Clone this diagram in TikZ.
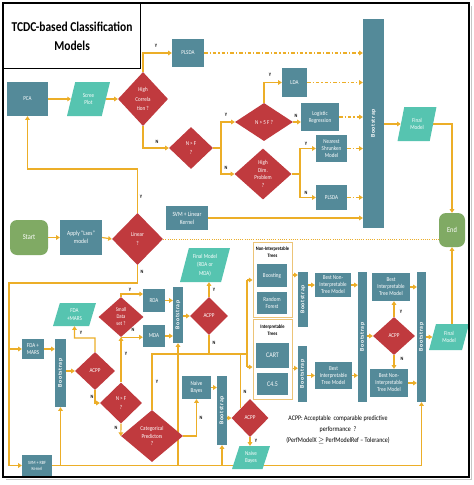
\documentclass[tikz,border=0pt]{standalone}
\usepackage{graphicx}
\usepackage{fontspec}
\setmainfont{Carlito}[FakeStretch=0.85]
\newfontfamily\bootfont{Carlito}[LetterSpace=10]
\usetikzlibrary{shapes.geometric,arrows.meta,backgrounds,calc}
\definecolor{boxc}{RGB}{84,138,153}
\definecolor{parac}{RGB}{86,196,176}
\definecolor{redc}{RGB}{192,58,62}
\definecolor{grnc}{RGB}{128,170,100}
\definecolor{orac}{RGB}{236,174,40}
\definecolor{contc}{RGB}{236,196,120}
\begin{document}
\begin{tikzpicture}[x=1pt,y=-1pt,
 sz/.style 2 args={minimum width=#1, minimum height=#2},
 box/.style={rectangle, fill=boxc, text=white, inner sep=0.5pt, align=center, font=\fontsize{6}{7}\selectfont},
 bootbox/.style={rectangle, fill=boxc, text=white, inner sep=0pt, font=\bootfont\bfseries\fontsize{5.8}{6}\selectfont},
 dia/.style={diamond, fill=redc, text=white, inner sep=0pt, align=center, font=\fontsize{6}{8}\selectfont},
 para/.style={trapezium, trapezium left angle=73, trapezium right angle=107, trapezium stretches=true, fill=parac, text=white, inner sep=0pt, align=center, font=\fontsize{6}{7.5}\selectfont},
 term/.style={rectangle, rounded corners=7pt, fill=grnc, text=white, inner sep=0pt, align=center, font=\fontsize{7.5}{8}\selectfont},
 cont/.style={rectangle, draw=contc, line width=1pt, fill=white, inner sep=0pt},
 conttitle/.style={align=center, text=black, inner sep=0pt, font=\bfseries\fontsize{5.2}{6.5}\selectfont},
 lab/.style={font=\bfseries\fontsize{5}{5}\selectfont, text=black, inner sep=0pt},
 line/.style={draw=orac, line width=1.2pt},
 arr/.style={line, -{Triangle[length=3.6pt,width=4.6pt]}},
 dd/.style={arr, dash pattern=on 3.5pt off 2pt on 1.2pt off 2pt},
 dotl/.style={draw=orac, line width=0.7pt, dash pattern=on 0.8pt off 1.4pt}]
\useasboundingbox (0,0) rectangle (474,485);
% title
\node[draw=black, line width=1.2pt, fill=white, sz={137}{65}, anchor=north west, inner sep=0pt, align=center, font=\bfseries\fontsize{13.5}{19}\selectfont] (title) at (3,3) {TCDC-based Classification\\Models};
% top part
\node[box, sz={32}{28}] (plsdaA) at (188,53) {PLSDA};
\node[box, sz={41}{34}] (pca) at (27.5,99) {PCA};
\node[para, sz={43}{34}] (scree) at (88.5,99) {Scree\\Plot};
\node[dia, sz={50}{54}, font=\fontsize{6}{9.5}\selectfont] (hc) at (143,99) {High\\Correla\\tion ?};
\node[dia, sz={44}{42}, font=\fontsize{6}{9}\selectfont] (nfA) at (191,148) {N > F\\?};
\node[dia, sz={58}{38}] (nfive) at (264,122) {N > 5 F ?};
\node[box, sz={25}{29}] (lda) at (294.5,82.5) {LDA};
\node[box, sz={38}{28}] (logreg) at (320,117) {Logistic\\Regression};
\node[dia, sz={57}{51}, font=\fontsize{6}{7.5}\selectfont] (hdp) at (263,174) {High\\Dim.\\Problem\\?};
\node[box, sz={31}{27}] (nsm) at (331.5,148.5) {Nearest\\Shrunken\\Model};
\node[box, sz={31}{25}] (plsdaB) at (331.5,197.5) {PLSDA};
\node[bootbox, sz={21}{209}] (bootA) at (373.5,123.5) {\rotatebox{90}{Bootstrap}};
\node[box, sz={42}{24}, font=\fontsize{6.4}{8}\selectfont] (svml) at (187,218) {SVM + Linear\\Kernel};
\node[para, sz={39}{34}] (fmA) at (417,124) {Final\\Model};
\node[term, sz={26}{34}] (endn) at (452,230) {End};
\node[term, sz={38}{35}] (start) at (29,237.5) {Start};
\node[box, sz={42}{35}, font=\fontsize{6.4}{8}\selectfont] (apply) at (81,237.5) {Apply “Lses”\\model};
\node[dia, sz={51}{52}, font=\fontsize{6}{9}\selectfont] (lin) at (137.5,239) {Linear\\?};
% left / middle part
\node[box, sz={22}{20}] (fdam) at (33,349) {FDA +\\MARS};
\node[bootbox, sz={11}{68}] (bootL) at (60.5,373) {\rotatebox{90}{Bootstrap}};
\node[dia, sz={40}{38}] (acppL) at (95,371) {ACPP};
\node[para, sz={43}{23}] (fdap) at (74.5,314.5) {FDA\\+MARS};
\node[dia, sz={45}{40}, font=\fontsize{5.6}{7}\selectfont] (small) at (121,317) {Small\\Data\\set ?};
\node[dia, sz={42}{41}, font=\fontsize{6}{9}\selectfont] (nfB) at (121,403) {N > F\\?};
\node[dia, sz={62}{52}, font=\fontsize{6}{7.5}\selectfont] (cat) at (152,436) {Categorical\\Predictors\\?};
\node[box, sz={22}{23}] (rda) at (154,300.5) {RDA};
\node[box, sz={22}{22}] (mda) at (154,336) {MDA};
\node[bootbox, sz={10}{56}] (bootRM) at (178,315) {\rotatebox{90}{Bootstrap}};
\node[dia, sz={38}{38}] (acppM) at (209,316) {ACPP};
\node[para, sz={50}{34}, font=\fontsize{6}{8.5}\selectfont] (fmRM) at (205,265) {Final Model\\(RDA or\\MDA)};
\node[box, sz={29}{23}] (nb) at (196.5,387.5) {Naive\\Bayes};
\node[bootbox, sz={10}{69}] (bootNB) at (222,410.5) {\rotatebox{90}{Bootstrap}};
\node[dia, sz={37}{38}] (acppB) at (250,418) {ACPP};
\node[para, sz={38}{23}] (nbp) at (251,457.5) {Naive\\Bayes};
\node[box, sz={30}{21}, font=\fontsize{4.8}{6}\selectfont] (svmr) at (37,465.5) {SVM + RBF\\Kernel};
% trees
\node[cont, sz={39}{75}] (nit) at (272.5,279.5) {};
\node[conttitle] (nitT) at (272.5,252) {Non-Interpretable\\Trees};
\node[box, sz={30}{23}] (boost) at (272,275.5) {Boosting};
\node[box, sz={30}{22}] (rf) at (272,303) {Random\\Forest};
\node[cont, sz={39}{80}] (itr) at (272.5,359) {};
\node[conttitle] (itrT) at (272.5,330) {Interpretable\\Trees};
\node[box, sz={33}{25}, font=\fontsize{7}{8}\selectfont] (cart) at (272.5,355.5) {CART};
\node[box, sz={31}{22}, font=\fontsize{7}{8}\selectfont] (c45) at (272.5,384) {C4.5};
\node[bootbox, sz={10}{55}] (bootT1) at (303,299.5) {\rotatebox{90}{Bootstrap}};
\node[bootbox, sz={9}{56}] (bootT2) at (302.5,374) {\rotatebox{90}{Bootstrap}};
\node[box, sz={36}{24}] (bnitA) at (333,285) {Best Non-\\Interpretable\\Tree Model};
\node[box, sz={37}{27}] (bitA) at (333.5,375.5) {Best\\Interpretable\\Tree Model};
\node[bootbox, sz={9}{130}] (bootT3) at (362.5,337) {\rotatebox{90}{Bootstrap}};
\node[dia, sz={42}{38}] (acppR) at (394,336) {ACPP};
\node[box, sz={38}{28}] (bitB) at (391,287) {Best\\Interpretable\\Tree Model};
\node[box, sz={38}{28}] (bnitB) at (389,383) {Best Non-\\Interpretable\\Tree Model};
\node[bootbox, sz={9}{130}] (bootT4) at (421.5,337) {\rotatebox{90}{Bootstrap}};
\node[para, sz={40}{26}] (fmB) at (449,337) {Final\\Model};
% note
\node[align=center, inner sep=0pt, font=\fontsize{7}{11}\selectfont] (note) at (338,430) {ACPP: Acceptable\ \ comparable predictive\\performance\ \ ?\\(PerfModelX $\geq$ PerfModelRef -- Tolerance)};
% junction coordinates
\coordinate (jA) at (221,148);
\coordinate (jB) at (300,174);
\coordinate (cA) at (27.5,169);
\coordinate (cB) at (9,283);
\coordinate (cC) at (9,465.5);
\coordinate (cD) at (9,349);
\coordinate (cE) at (74.5,338);
\coordinate (cF) at (143,294);
\coordinate (jC) at (152,354);
\coordinate (jD) at (247,354);
\coordinate (jE) at (247,280);
\coordinate (jF) at (247,367);
% labels
\node[lab] (l1) at (156,46) {Y};
\node[lab] (l2) at (157,142) {N};
\node[lab] (l3) at (226,115) {Y};
\node[lab] (l4) at (226,168) {N};
\node[lab] (l5) at (270,75) {Y};
\node[lab] (l6) at (296,116) {N};
\node[lab] (l7) at (306,144) {Y};
\node[lab] (l8) at (306,193) {N};
\node[lab] (l9) at (141,197) {Y};
\node[lab] (l10) at (142,272) {N};
\node[lab] (l11) at (81,333) {Y};
\node[lab] (l12) at (92,397) {N};
\node[lab] (l13) at (126,354) {Y};
\node[lab] (l14) at (116,428) {N};
\node[lab] (l15) at (130,290) {Y};
\node[lab] (l16) at (133,330) {N};
\node[lab] (l17) at (214,290) {Y};
\node[lab] (l18) at (214,343) {N};
\node[lab] (l19) at (157,382) {Y};
\node[lab] (l20) at (201,418) {N};
\node[lab] (l21) at (245,392) {N};
\node[lab] (l22) at (256,441) {Y};
\node[lab] (l23) at (401,312) {Y};
\node[lab] (l24) at (402,359) {N};
% frame
\draw[gray!45, line width=1.6pt] (6,479.5) -- (471.5,479.5) -- (471.5,6);
\draw[line width=1.6pt] (3,3) rectangle (469,477);
\begin{scope}[on background layer]
\fill[white] (0,0) rectangle (474,485);
\draw[arr] (pca.east) -- (scree.west);
\draw[arr] (scree.east) -- (hc.west);
\draw[arr] (hc.north) |- (plsdaA.west);
\draw[dd] (plsdaA.east) -- (plsdaA.east -| bootA.west);
\draw[arr] (hc.south) |- (nfA.west);
\draw[line] (nfA.east) -- (jA);
\draw[arr] (jA) |- (nfive.west);
\draw[arr] (jA) |- (hdp.west);
\draw[arr] (nfive.north) |- (lda.west);
\draw[dd] (lda.east) -- (lda.east -| bootA.west);
\draw[arr] (nfive.east) -- (nfive.east -| logreg.west);
\draw[dd] (logreg.east) -- (logreg.east -| bootA.west);
\draw[line] (hdp.east) -- (jB);
\draw[arr] (jB) |- (nsm.west);
\draw[arr] (jB) |- (plsdaB.west);
\draw[dd] (nsm.east) -- (nsm.east -| bootA.west);
\draw[dd] (plsdaB.east) -- (plsdaB.east -| bootA.west);
\draw[arr] (svml.east) -- (svml.east -| bootA.west);
\draw[arr] (bootA.east |- fmA.west) -- (fmA.west);
\draw[arr] (fmA.east) -| (endn.north);
\draw[arr] (start.east) -- (apply.west);
\draw[arr] (apply.east) -- (lin.west);
\draw[arr] (lin.north) |- (cA) -- (pca.south);
\draw[dotl] (lin.east) -- (lin.east -| endn.west);
\draw[line] (lin.south) |- (cB) -- (cC);
\draw[arr] (cC) -- (svmr.west);
\draw[arr] (cD) -- (fdam.west);
\draw[arr] (fdam.east) -- (fdam.east -| bootL.west);
\draw[arr] (bootL.east |- acppL.west) -- (acppL.west);
\draw[arr] (acppL.north) |- (cE) -- (fdap.south);
\draw[arr] (acppL.south) |- (nfB.west);
\draw[arr] (nfB.north) -- (small.south);
\draw[arr] (nfB.south) -- (cat.west);
\draw[arr] (small.north) |- (cF);
\draw[arr] (small.south) -- (small.south -| mda.west);
\draw[arr] (rda.east) -- (rda.east -| bootRM.west);
\draw[arr] (mda.east) -- (mda.east -| bootRM.west);
\draw[arr] (bootRM.east |- acppM.west) -- (acppM.west);
\draw[arr] (acppM.north) -- (acppM.north |- fmRM.south);
\draw[line] (cat.north) -- (jC) -- (jD);
\draw[line] (acppM.south) -- (acppM.south |- jC);
\draw[line] (jE) -- (jF);
\draw[arr] (jE) -- (jE -| nit.west);
\draw[arr] (jF) -- (jF -| itr.west);
\draw[line] (acppB.north west) -- (acppB.north west |- jC);
\draw[arr] (cat.east) -| (nb.south);
\draw[arr] (nb.east) -- (nb.east -| bootNB.west);
\draw[arr] (bootNB.east |- acppB.west) -- (acppB.west);
\draw[arr] (acppB.south) -- (acppB.south |- nbp.north);
\draw[line] (svmr.east) -- (svmr.east -| bootT4.south);
\draw[arr] (svmr.east -| bootL.south) -- (bootL.south);
\draw[arr] (svmr.east -| bootRM.south) -- (bootRM.south);
\draw[arr] (svmr.east -| bootNB.south) -- (bootNB.south);
\draw[arr] (svmr.east -| bootT4.south) -- (bootT4.south);
\draw[arr] ($(nit.east)+(0,-4.5)$) -- ($(nit.east -| bootT1.west)+(0,-4.5)$);
\draw[arr] (cart.south -| itr.east) -- (cart.south -| bootT2.west);
\draw[arr] (bootT1.east |- bnitA.west) -- (bnitA.west);
\draw[arr] (bootT2.east |- bitA.west) -- (bitA.west);
\draw[arr] (bnitA.east) -- (bnitA.east -| bootT3.west);
\draw[arr] (bitA.east) -- (bitA.east -| bootT3.west);
\draw[arr] (bootT3.east |- acppR.west) -- (acppR.west);
\draw[arr] (acppR.north) -- (acppR.north |- bitB.south);
\draw[arr] (acppR.south) -- (acppR.south |- bnitB.north);
\draw[arr] (bitB.east) -- (bitB.east -| bootT4.west);
\draw[arr] (bnitB.east) -- (bnitB.east -| bootT4.west);
\draw[arr] (bootT4.east |- fmB.west) -- (fmB.west);
\draw[arr] (endn.south |- fmB.north) -- (endn.south);
\end{scope}
\end{tikzpicture}
\end{document}
